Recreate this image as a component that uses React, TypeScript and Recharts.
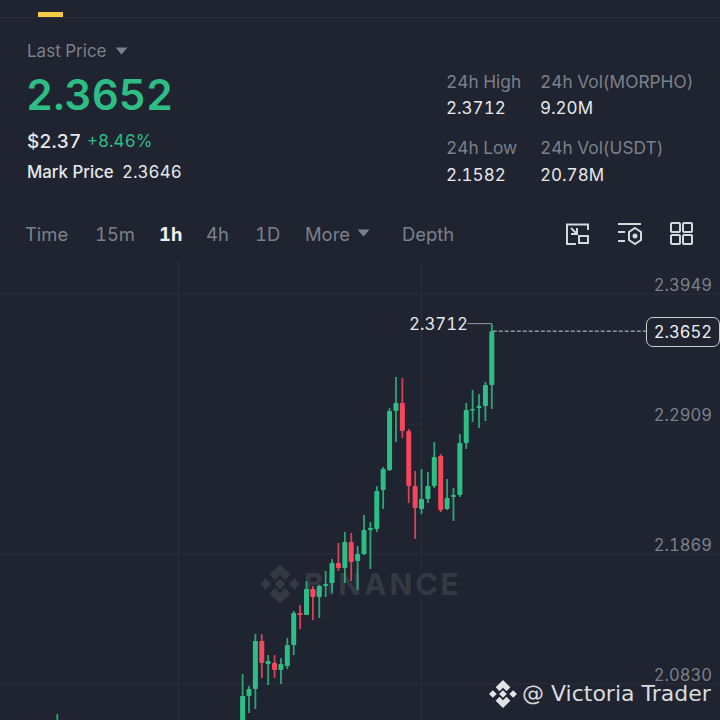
import React from 'react';
import {
  ComposedChart, Bar, CartesianGrid, XAxis, YAxis, ReferenceLine,
} from 'recharts';

const BG = '#1f2430';
const GREEN = '#2ebd85';
const RED = '#f6465d';
const GRID = '#2b303b';
const MUTED = '#7b818b';
const FONT = 'Inter, "Noto Sans", sans-serif';

// Candle slots, counted from the first candle of the main run
const slots = [
  -29, 0, 1, 2, 3, 4, 5, 6, 7, 8, 9, 10, 11, 12, 13, 14, 15, 16, 17, 18, 19,
  20, 21, 22, 23, 24, 25, 26, 27, 28, 29, 30, 31, 32, 33, 34, 35, 36, 37, 38, 39,
];
const opens = [
  2.0401, 2.0501, 2.0733, 2.0789, 2.1173, 2.0989, 2.0997, 2.0941, 2.0973, 2.1141, 2.1397,
  2.1381, 2.1589, 2.1525, 2.1613, 2.1637, 2.1797, 2.1757, 2.1965, 2.1813, 2.1869,
  2.2061, 2.2069, 2.2381, 2.2541, 2.3013, 2.3077, 2.2853, 2.2413, 2.2229, 2.2309,
  2.2413, 2.2653, 2.2229, 2.2325, 2.2341, 2.2757, 2.3021, 2.3037, 2.3053, 2.3221,
];
const closes = [
  2.0525, 2.0733, 2.0789, 2.1173, 2.0997, 2.1013, 2.0941, 2.0989, 2.1141, 2.1397, 2.1381,
  2.1589, 2.1525, 2.1613, 2.1629, 2.1797, 2.1757, 2.1965, 2.1805, 2.1869, 2.2061,
  2.2077, 2.2373, 2.2549, 2.3013, 2.3077, 2.2853, 2.2413, 2.2237, 2.2309, 2.2413,
  2.2645, 2.2221, 2.2317, 2.2341, 2.2757, 2.3021, 2.3029, 2.3053, 2.3221, 2.3652,
];
const highs = [
  2.0589, 2.0909, 2.0813, 2.1229, 2.1229, 2.1061, 2.1061, 2.1037, 2.1197, 2.1413, 2.1461,
  2.1653, 2.1613, 2.1621, 2.1733, 2.1829, 2.1957, 2.2045, 2.2037, 2.1933, 2.2181,
  2.2125, 2.2413, 2.2565, 2.3037, 2.3285, 2.3277, 2.2869, 2.2533, 2.2549, 2.2525,
  2.2765, 2.2669, 2.2469, 2.2397, 2.2829, 2.3077, 2.3181, 2.3149, 2.3245, 2.3712,
];
const lows = [
  2.0361, 2.0461, 2.0597, 2.0629, 2.0877, 2.0821, 2.0877, 2.0829, 2.0949, 2.1061, 2.1269,
  2.1381, 2.1341, 2.1357, 2.1525, 2.1557, 2.1733, 2.1637, 2.1653, 2.1581, 2.1861,
  2.1749, 2.2045, 2.2229, 2.2533, 2.2765, 2.2797, 2.2277, 2.1989, 2.2189, 2.2277,
  2.2397, 2.2205, 2.2221, 2.2133, 2.2325, 2.2709, 2.2925, 2.2877, 2.2933, 2.3029,
];
const priceTicks = [2.3949, 2.2909, 2.1869, 2.083];
const timeTicks = [-10, 28];

const lastPrice = 2.3652;
const topPrice = 2.3712;

const tabs = [
  { label: 'Time', left: 25 },
  { label: '15m', left: 95 },
  { label: '1h', left: 159, active: true },
  { label: '4h', left: 206 },
  { label: '1D', left: 255 },
  { label: 'More', left: 305 },
  { label: 'Depth', left: 402 },
];
const stats = [
  { label: '24h High', value: '2.3712', left: 446, top: 82, valueTop: 108 },
  { label: '24h Vol(MORPHO)', value: '9.20M', left: 540, top: 82, valueTop: 108 },
  { label: '24h Low', value: '2.1582', left: 446, top: 148, valueTop: 175 },
  { label: '24h Vol(USDT)', value: '20.78M', left: 540, top: 148, valueTop: 175 },
];

const rows = slots.map((slot, i) => ({
  slot,
  open: opens[i],
  close: closes[i],
  high: highs[i],
  low: lows[i],
  range: [lows[i], highs[i]],
}));

// Draws wick and body out of the low-high rectangle the Bar hands over
const Candle = (props: any) => {
  const { x, y, width, height, payload } = props;
  const { open, close, high, low } = payload;
  const pxPerPrice = height / (high - low);
  const bodyTop = y + (high - Math.max(open, close)) * pxPerPrice;
  const bodyHeight = Math.max(Math.abs(open - close) * pxPerPrice, 1.5);
  const color = close >= open ? GREEN : RED;
  const cx = x + width / 2;
  return (
    <g>
      <rect x={cx - 0.9} y={y} width={1.8} height={height} fill={color} opacity={0.85} />
      <rect x={x} y={bodyTop} width={width} height={bodyHeight} rx={0.8} fill={color} />
    </g>
  );
};

const PriceTick = ({ y, payload }: any) => (
  <text
    x={712}
    y={y - 9}
    textAnchor="end"
    dominantBaseline="central"
    fontSize={16.6}
    fontFamily={FONT}
    fill={MUTED}
    style={{ fontVariantNumeric: 'tabular-nums' }}
  >
    {payload.value.toFixed(4)}
  </text>
);

const Caret = ({ left, top, color = MUTED }: { left: number; top: number; color?: string }) => (
  <svg style={{ position: 'absolute', left, top }} width={13} height={8}>
    <path d="M0.5 0.5 H12.5 L6.5 7.5 Z" fill={color} />
  </svg>
);

const BinanceMark = ({ left, top, size, color }: { left: number; top: number; size: number; color: string }) => (
  <svg style={{ position: 'absolute', left, top }} width={size} height={size} viewBox="0 0 40 40">
    <path
      d="M20 0 L30.5 10.5 L25 16 L20 11 L15 16 L9.5 10.5 Z M20 40 L9.5 29.5 L15 24 L20 29 L25 24 L30.5 29.5 Z M0 20 L5.5 14.5 L11 20 L5.5 25.5 Z M29 20 L34.5 14.5 L40 20 L34.5 25.5 Z M20 14.5 L25.5 20 L20 25.5 L14.5 20 Z"
      fill={color}
    />
  </svg>
);

const label = (text: string, left: number, top: number, size: number, color: string, weight = 400) => (
  <div
    key={text + left}
    style={{
      position: 'absolute', left, top, fontSize: size, color, fontWeight: weight,
      lineHeight: 1, transform: 'translateY(-50%)', whiteSpace: 'nowrap',
      fontVariantNumeric: 'tabular-nums',
    }}
  >
    {text}
  </div>
);

export default function App() {
  return (
    <div
      style={{
        position: 'absolute', left: 0, top: 0, width: 720, height: 720,
        overflow: 'hidden', background: BG, fontFamily: FONT,
      }}
    >
      {/* top strip */}
      <div style={{ position: 'absolute', left: 38, top: 12, width: 25, height: 5, background: '#f5cb45' }} />
      <div style={{ position: 'absolute', left: 0, top: 17, width: 720, height: 1, background: GRID }} />

      {/* price header */}
      {label('Last Price', 27, 51, 17, MUTED)}
      <Caret left={115} top={47} />
      {label('2.3652', 26, 95, 42, GREEN, 600)}
      {label('$2.37', 27, 141, 19, '#e6e8ea', 500)}
      {label('+8.46%', 87, 141, 17, GREEN)}
      {label('Mark Price', 27, 172, 16.8, '#e6e8ea', 500)}
      {label('2.3646', 122, 172, 17, '#e6e8ea')}

      {stats.map((s) => (
        <React.Fragment key={s.label}>
          {label(s.label, s.left, s.top, 17.3, MUTED)}
          {label(s.value, s.left, s.valueTop, 17, '#e6e8ea')}
        </React.Fragment>
      ))}

      {/* interval tabs */}
      {tabs.map((t) =>
        label(t.label, t.left, 234, 18.4, t.active ? '#eef0f2' : MUTED, t.active ? 700 : 400),
      )}
      <Caret left={357} top={229} />

      <svg style={{ position: 'absolute', left: 560, top: 218 }} width={140} height={30} fill="none" stroke="#d5d8dc" strokeWidth={2}>
        <path d="M7 18 V6.5 H28 V12 M7 18 V26 H16" />
        <rect x={19} y={18} width={9} height={7} />
        <path d="M11 10 L17 16 M17 10 V16 H11" />
        <path d="M58 6 H81 M58 14 H65 M58 23 H65" />
        <path d="M75 10 L81 14 V22 L75 26 L69 22 V14 Z" />
        <circle cx={75} cy={18} r={1.5} fill="#d5d8dc" />
        <rect x={111} y={5} width={9} height={9} rx={1} />
        <rect x={111} y={17} width={9} height={9} rx={1} />
        <rect x={123} y={5} width={9} height={9} rx={1} />
        <rect x={123} y={17} width={9} height={9} rx={1} />
      </svg>

      {/* watermark sits under the candles */}
      <BinanceMark left={260} top={564} size={40} color="#343943" />
      <div
        style={{
          position: 'absolute', left: 304, top: 584, transform: 'translateY(-50%)',
          fontSize: 30, fontWeight: 700, letterSpacing: 3, color: '#343943', lineHeight: 1,
        }}
      >
        BINANCE
      </div>

      <div style={{ position: 'absolute', left: 0, top: 259 }}>
        <ComposedChart
          width={720}
          height={521}
          data={rows}
          margin={{ top: 0, right: 0, bottom: 0, left: 0 }}
        >
          <CartesianGrid
            stroke={GRID}
            horizontalValues={priceTicks}
            verticalValues={timeTicks}
          />
          <XAxis
            dataKey="slot"
            type="number"
            domain={[-37.92, 74.76]}
            allowDataOverflow
            hide
            height={0}
          />
          <YAxis
            type="number"
            orientation="right"
            mirror
            domain={[2.0061, 2.4229]}
            allowDataOverflow
            ticks={priceTicks}
            interval={0}
            tick={<PriceTick />}
            tickLine={false}
            axisLine={false}
          />
          <ReferenceLine
            segment={[{ x: 39.2, y: lastPrice }, { x: 63.2, y: lastPrice }]}
            stroke="#c9ccd1"
            strokeDasharray="4 2"
          />
          <ReferenceLine
            segment={[{ x: 35.2, y: topPrice }, { x: 39, y: topPrice }]}
            stroke="#9a9ea5"
          />
          <Bar dataKey="range" barSize={5} shape={<Candle />} isAnimationActive={false} />
        </ComposedChart>
      </div>

      {label('2.3712', 409, 324, 16.8, '#e6e8ea')}

      <div
        style={{
          position: 'absolute', left: 646, top: 317, width: 72, height: 28,
          border: '1px solid #c9ccd1', borderRadius: 7, background: BG,
          color: '#eef0f2', fontSize: 16.6, lineHeight: '28px', textAlign: 'center',
          fontVariantNumeric: 'tabular-nums',
        }}
      >
        2.3652
      </div>

      {/* author tag */}
      <BinanceMark left={489} top={680} size={28} color="#e2e4e7" />
      <div
        style={{
          position: 'absolute', left: 522, top: 694, transform: 'translateY(-50%)',
          fontFamily: '"DejaVu Sans", sans-serif', fontSize: 22, color: '#d9dbde',
          lineHeight: 1, whiteSpace: 'nowrap',
        }}
      >
        @ Victoria Trader
      </div>
    </div>
  );
}
